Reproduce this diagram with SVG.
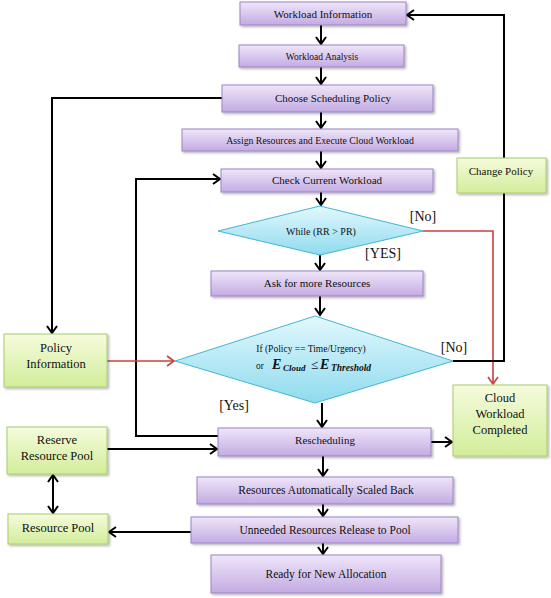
<svg xmlns="http://www.w3.org/2000/svg" width="551" height="598" viewBox="0 0 551 598">
<defs>
<linearGradient id="gP" x1="0" y1="0" x2="0" y2="1"><stop offset="0" stop-color="#efe6f9"/><stop offset="1" stop-color="#c3abe2"/></linearGradient>
<linearGradient id="gG" x1="0" y1="0" x2="0" y2="1"><stop offset="0" stop-color="#f5fbdc"/><stop offset="1" stop-color="#d2ed9a"/></linearGradient>
<linearGradient id="gC" x1="0" y1="0" x2="0" y2="1"><stop offset="0" stop-color="#e2f8fd"/><stop offset="1" stop-color="#8fdbee"/></linearGradient>
<filter id="sh" x="-10%" y="-10%" width="120%" height="140%"><feDropShadow dx="1.5" dy="1.5" stdDeviation="1" flood-color="#000" flood-opacity="0.3"/></filter>
<marker id="ah" markerUnits="userSpaceOnUse" markerWidth="12" markerHeight="12" viewBox="0 0 12 12" refX="10" refY="6" orient="auto-start-reverse"><path d="M3,1 L10,6 L3,11" fill="none" stroke="#000" stroke-width="2"/></marker>
<marker id="ar" markerUnits="userSpaceOnUse" markerWidth="12" markerHeight="12" viewBox="0 0 12 12" refX="10" refY="6" orient="auto"><path d="M3,1 L10,6 L3,11" fill="none" stroke="#c8423f" stroke-width="1.6"/></marker>
<style>
.p{fill:url(#gP);stroke:#9c84c6;stroke-width:1;filter:url(#sh)}
.g{fill:url(#gG);stroke:#a9cc6c;stroke-width:1;filter:url(#sh)}
.c{fill:url(#gC);stroke:#45b4d3;stroke-width:1}
text{font-family:"Liberation Serif","Times New Roman",serif;fill:#111;text-anchor:middle}
.s{text-anchor:start}
.k{fill:none;stroke:#000;stroke-width:2}
.r{fill:none;stroke:#c8423f;stroke-width:1.6}
.lb{font-size:14px}
</style>
</defs>
<g id="connectors">
<path class="k" d="M321,25 V44" marker-end="url(#ah)"/>
<path class="k" d="M321,67 V84" marker-end="url(#ah)"/>
<path class="k" d="M321,112 V128" marker-end="url(#ah)"/>
<path class="k" d="M321,151 V168" marker-end="url(#ah)"/>
<path class="k" d="M321,192 V205" marker-end="url(#ah)"/>
<path class="k" d="M320,255 V270" marker-end="url(#ah)"/>
<path class="k" d="M320,296 V315" marker-end="url(#ah)"/>
<path class="k" d="M322,403 V427" marker-end="url(#ah)"/>
<path class="k" d="M323,456 V476" marker-end="url(#ah)"/>
<path class="k" d="M323,504 V516" marker-end="url(#ah)"/>
<path class="k" d="M323,543 V554" marker-end="url(#ah)"/>
<path class="k" d="M222,98 H52 V333" marker-end="url(#ah)"/>
<path class="k" d="M218,436 H136 V179 H220" marker-end="url(#ah)"/>
<path class="r" d="M423,231 H493 V384" marker-end="url(#ar)"/>
<path class="r" d="M107,361 H174" marker-end="url(#ar)"/>
<path class="k" d="M453,361 H504 V15 H407" marker-end="url(#ah)"/>
<path class="k" d="M431,442 H452" marker-end="url(#ah)"/>
<path class="k" d="M107,449 H217" marker-end="url(#ah)"/>
<path class="k" d="M53,475 V513" marker-start="url(#ah)" marker-end="url(#ah)"/>
<path class="k" d="M191,532 H109" marker-end="url(#ah)"/>
</g>
<g id="workload-information"><rect class="p" x="240" y="2" width="166" height="23"/><text x="323" y="18" font-size="11">Workload Information</text></g>
<g id="workload-analysis"><rect class="p" x="239" y="45" width="165" height="22"/><text x="322" y="60" font-size="9.5">Workload Analysis</text></g>
<g id="choose-scheduling-policy"><rect class="p" x="222" y="85" width="211" height="27"/><text x="333" y="102" font-size="11">Choose Scheduling Policy</text></g>
<g id="assign-resources"><rect class="p" x="182" y="129" width="276" height="22"/><text x="320" y="144" font-size="9.8">Assign Resources and Execute Cloud Workload</text></g>
<g id="check-current-workload"><rect class="p" x="221" y="169" width="212" height="23"/><text x="327" y="184" font-size="11">Check Current Workload</text></g>
<g id="while-rr-pr"><polygon class="c" points="320,206 423,231 320,255 218,231"/><text x="321" y="235" font-size="10">While (RR &gt; PR)</text></g>
<g id="ask-more-resources"><rect class="p" x="211" y="271" width="212" height="25"/><text x="317" y="287" font-size="11">Ask for more Resources</text></g>
<g id="policy-condition"><polygon class="c" points="315,316 453,361 315,403 175,361"/>
<text x="311" y="352" font-size="9.5">If (Policy == Time/Urgency)</text>
<text class="s" x="256" y="369" font-size="9.5">or</text>
<text class="s" x="272" y="369" font-size="14" font-weight="bold" font-style="italic">E</text>
<text class="s" x="283" y="371" font-size="9" font-weight="bold" font-style="italic">Cloud</text>
<text class="s" x="311" y="369" font-size="13">≤</text>
<text class="s" x="320" y="369" font-size="14" font-weight="bold" font-style="italic">E</text>
<text class="s" x="331" y="371" font-size="9.5" font-weight="bold" font-style="italic">Threshold</text>
</g>
<g id="rescheduling"><rect class="p" x="218" y="428" width="213" height="28"/><text x="325" y="444" font-size="11">Rescheduling</text></g>
<g id="scaled-back"><rect class="p" x="197" y="477" width="256" height="27"/><text x="326" y="494" font-size="11.5">Resources Automatically Scaled Back</text></g>
<g id="unneeded-release"><rect class="p" x="191" y="517" width="267" height="26"/><text x="325" y="534" font-size="11.5">Unneeded Resources Release to Pool</text></g>
<g id="ready-new-allocation"><rect class="p" x="211" y="555" width="230" height="38"/><text x="326" y="578" font-size="11.5">Ready for New Allocation</text></g>
<g id="change-policy"><rect class="g" x="457" y="158" width="89" height="35"/><text x="501" y="175" font-size="11">Change Policy</text></g>
<g id="policy-information"><rect class="g" x="4" y="334" width="103" height="53"/><text x="56" y="352" font-size="12.5">Policy</text><text x="56" y="368" font-size="12.5">Information</text></g>
<g id="cloud-workload-completed"><rect class="g" x="453" y="385" width="94" height="71"/><text x="500" y="402" font-size="12.5">Cloud</text><text x="500" y="418" font-size="12.5">Workload</text><text x="500" y="434" font-size="12.5">Completed</text></g>
<g id="reserve-resource-pool"><rect class="g" x="7" y="427" width="100" height="47"/><text x="57" y="444" font-size="12.5">Reserve</text><text x="57" y="460" font-size="12.5">Resource Pool</text></g>
<g id="resource-pool"><rect class="g" x="8" y="514" width="100" height="30"/><text x="58" y="532" font-size="12.5">Resource Pool</text></g>
<g id="labels">
<text class="lb" x="423" y="221">[No]</text>
<text class="lb" x="383" y="258">[YES]</text>
<text class="lb" x="454" y="352">[No]</text>
<text class="lb" x="234" y="410">[Yes]</text>
</g>
</svg>
